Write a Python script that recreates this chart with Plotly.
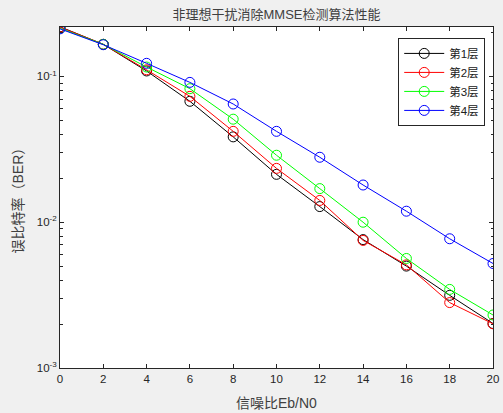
import plotly.graph_objects as go

# 信噪比 (dB)
snr = [0, 2, 4, 6, 8, 10, 12, 14, 16, 18, 20]

# BER per layer
ber_layer1 = [0.219, 0.166, 0.109, 0.0675, 0.0385, 0.0213, 0.0128, 0.0076, 0.0050, 0.00315, 0.00202]
ber_layer2 = [0.218, 0.166, 0.111, 0.073, 0.042, 0.0234, 0.0141, 0.0075, 0.0051, 0.00281, 0.00201]
ber_layer3 = [0.214, 0.166, 0.116, 0.0824, 0.0509, 0.0288, 0.0170, 0.0100, 0.00564, 0.00346, 0.00231]
ber_layer4 = [0.212, 0.165, 0.123, 0.091, 0.0647, 0.042, 0.0279, 0.0180, 0.0119, 0.0077, 0.00521]

names = ['第1层', '第2层', '第3层', '第4层']
colors = ['#000000', '#ff0000', '#00ff00', '#0000ff']

# minor tick positions on the log axis
minor_vals = [m * 10 ** e for e in (-3, -2, -1) for m in range(2, 10) if m * 10 ** e < 0.22]

fig = go.Figure()
for name, ys, c in zip(names, [ber_layer1, ber_layer2, ber_layer3, ber_layer4], colors):
    fig.add_trace(go.Scatter(
        x=snr, y=ys, name=name, mode='lines+markers',
        line=dict(color=c, width=1),
        marker=dict(symbol='circle-open', size=10, color=c, line=dict(width=1)),
    ))

axis_col = '#262626'
label_col = '#404040'
font = 'Liberation Sans, Arial, Noto Sans CJK SC'

fig.update_layout(
    width=503, height=413,
    paper_bgcolor='#f0f0f0', plot_bgcolor='white',
    margin=dict(l=60, r=10, t=27, b=45),
    font=dict(family=font, size=11.5, color=axis_col),
    title=dict(text='非理想干扰消除MMSE检测算法性能', x=0.5, xref='paper', xanchor='center',
               y=1 - 14 / 413, yanchor='middle', font=dict(size=13, color=label_col)),
    showlegend=True,
    legend=dict(x=0.982, y=0.968, xanchor='right', yanchor='top',
                bgcolor='white', bordercolor=axis_col, borderwidth=1,
                font=dict(size=11.5, color='#202020'), tracegroupgap=0, itemwidth=40),
    annotations=[
        dict(text='信噪比Eb/N0', x=0.5, y=0, xref='paper', yref='paper', showarrow=False,
             xanchor='center', yanchor='middle', yshift=-35, font=dict(size=14, color=label_col)),
        dict(text='误比特率（BER）', x=0, y=0.5, xref='paper', yref='paper', showarrow=False,
             textangle=-90, xanchor='center', yanchor='middle', xshift=-43,
             font=dict(size=14, color=label_col)),
    ],
)

fig.update_xaxes(
    range=[0, 20], tickvals=snr, ticks='inside', ticklen=4,
    showgrid=False, zeroline=False, showline=True, linecolor=axis_col,
    mirror='ticks', tickcolor=axis_col, automargin=False,
)
fig.update_yaxes(
    type='log', range=[-3, -0.661],
    tickvals=[0.001, 0.01, 0.1],
    ticktext=['10<sup>-3</sup>', '10<sup>-2</sup>', '10<sup>-1</sup>'],
    ticks='inside', ticklen=4,
    minor=dict(tickmode='array', tickvals=minor_vals, ticks='inside', ticklen=2.5,
               tickcolor=axis_col, showgrid=False),
    showgrid=False, zeroline=False, showline=True, linecolor=axis_col,
    mirror='ticks', tickcolor=axis_col, automargin=False,
)

fig.write_html('out.html', config={'displayModeBar': False},
               post_script="document.body.style.margin='0';document.body.style.overflow='hidden';")
